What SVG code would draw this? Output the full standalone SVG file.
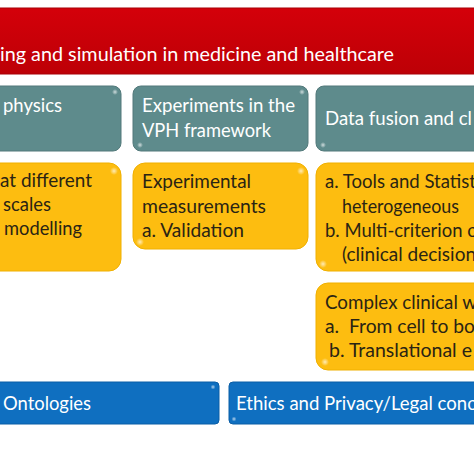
<svg xmlns="http://www.w3.org/2000/svg" width="474" height="474" viewBox="0 0 474 474">
<style>
text{font-family:"Lato","Open Sans","Liberation Sans",sans-serif;}
.w{fill:#ffffff;}
.d{fill:#2a2414;}
.t{font-size:18.5px;}
.y{font-size:18.5px;}
.teal{fill:#5e8b8c;stroke:#52797a;stroke-width:1;}
.yel{fill:#fdbd10;stroke:#f0b000;stroke-width:1;}
.blue{fill:#0f6fc0;stroke:#0b5ea6;stroke-width:1;}
.dot{fill:url(#glow);}
</style>
<defs>
<linearGradient id="red" x1="0" y1="0" x2="0" y2="1">
<stop offset="0" stop-color="#d4000a"/>
<stop offset="1" stop-color="#bd0006"/>
</linearGradient>
<radialGradient id="glow">
<stop offset="0" stop-color="#ffffff" stop-opacity="0.7"/>
<stop offset="1" stop-color="#ffffff" stop-opacity="0"/>
</radialGradient>
</defs>
<rect width="474" height="474" fill="#ffffff"/>
<g id="title">
<rect x="-20" y="8" width="520" height="66" fill="url(#red)" stroke="#a80006" stroke-width="1"/>
<text class="w" x="0" y="61" font-size="19.5" textLength="394" lengthAdjust="spacingAndGlyphs">ing and simulation in medicine and healthcare</text>
</g>
<g id="teal1">
<rect class="teal" x="-20" y="86" width="141" height="65" rx="8"/>
<circle class="dot" cx="115" cy="92" r="3"/>
<text class="w t" x="3" y="112" textLength="59" lengthAdjust="spacingAndGlyphs">physics</text>
</g>
<g id="teal2">
<rect class="teal" x="133" y="86" width="175" height="65" rx="8"/>
<circle class="dot" cx="302" cy="92" r="3"/>
<circle class="dot" cx="140" cy="145" r="3"/>
<text class="w t" x="142" y="112" textLength="153" lengthAdjust="spacingAndGlyphs">Experiments in the</text>
<text class="w t" x="142" y="137" textLength="129" lengthAdjust="spacingAndGlyphs">VPH framework</text>
</g>
<g id="teal3">
<rect class="teal" x="316" y="86" width="180" height="65" rx="8"/>
<circle class="dot" cx="323" cy="145" r="3"/>
<text class="w t" x="325" y="125" textLength="147" lengthAdjust="spacingAndGlyphs">Data fusion and cl</text>
</g>
<g id="yel1">
<rect class="yel" x="-20" y="163" width="141" height="108" rx="12"/>
<circle class="dot" cx="114" cy="171" r="4"/>
<text class="d y" x="0" y="187" textLength="92" lengthAdjust="spacingAndGlyphs">at different</text>
<text class="d y" x="3" y="211" textLength="48" lengthAdjust="spacingAndGlyphs">scales</text>
<text class="d y" x="4" y="235" textLength="78" lengthAdjust="spacingAndGlyphs">modelling</text>
</g>
<g id="yel2">
<rect class="yel" x="133" y="163" width="175" height="86" rx="12"/>
<circle class="dot" cx="301" cy="171" r="4"/>
<circle class="dot" cx="140" cy="242" r="4"/>
<text class="d y" x="142" y="188" textLength="109" lengthAdjust="spacingAndGlyphs">Experimental</text>
<text class="d y" x="142" y="213" textLength="124" lengthAdjust="spacingAndGlyphs">measurements</text>
<text class="d y" x="142" y="237" textLength="102" lengthAdjust="spacingAndGlyphs">a. Validation</text>
</g>
<g id="yel3">
<rect class="yel" x="316" y="163" width="180" height="108" rx="12"/>
<circle class="dot" cx="323" cy="264" r="4"/>
<text class="d y" x="325" y="188" textLength="151" lengthAdjust="spacingAndGlyphs">a. Tools and Statist</text>
<text class="d y" x="342" y="213" textLength="117" lengthAdjust="spacingAndGlyphs">heterogeneous</text>
<text class="d y" x="325" y="237" textLength="151" lengthAdjust="spacingAndGlyphs">b. Multi-criterion c</text>
<text class="d y" x="342" y="261" textLength="134" lengthAdjust="spacingAndGlyphs">(clinical decision</text>
</g>
<g id="yel4">
<rect class="yel" x="316" y="283" width="180" height="87" rx="12"/>
<circle class="dot" cx="325" cy="362" r="4"/>
<text class="d y" x="325" y="309" textLength="152" lengthAdjust="spacingAndGlyphs">Complex clinical w</text>
<text class="d y" x="325" y="333" xml:space="preserve" textLength="150" lengthAdjust="spacingAndGlyphs">a.  From cell to bo</text>
<text class="d y" x="329" y="357" textLength="143" lengthAdjust="spacingAndGlyphs">b. Translational e</text>
</g>
<g id="blue1">
<rect class="blue" x="-20" y="382" width="239" height="42" rx="4"/>
<circle class="dot" cx="213" cy="387" r="2.5"/>
<text class="w t" x="3" y="410" textLength="88" lengthAdjust="spacingAndGlyphs">Ontologies</text>
</g>
<g id="blue2">
<rect class="blue" x="229" y="382" width="270" height="42" rx="4"/>
<circle class="dot" cx="234" cy="419" r="2.5"/>
<text class="w t" x="236" y="410" textLength="240" lengthAdjust="spacingAndGlyphs">Ethics and Privacy/Legal conc</text>
</g>
<g id="connectors"></g>
</svg>
